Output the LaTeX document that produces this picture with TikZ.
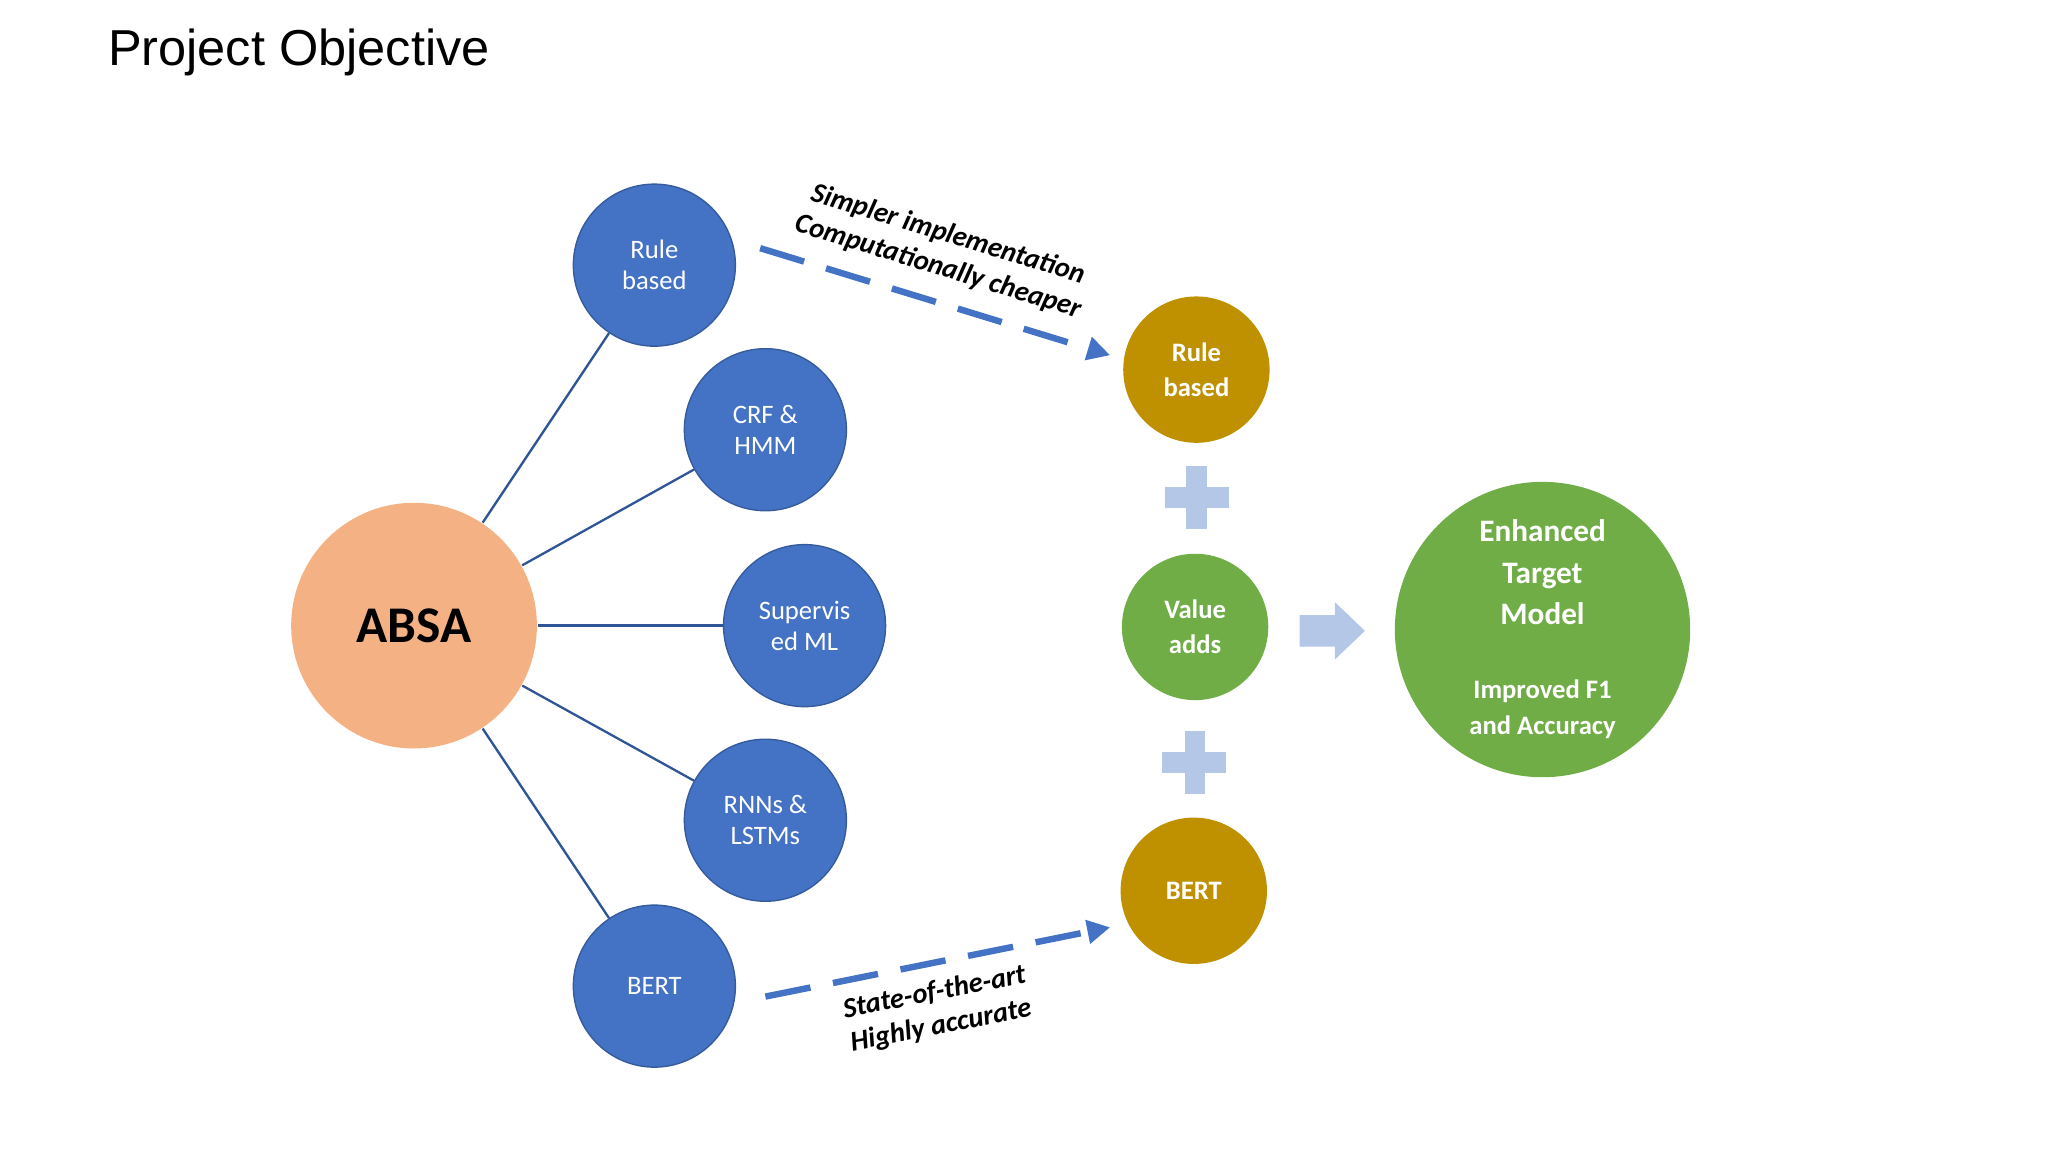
\documentclass[tikz,border=0pt]{standalone}
\usepackage{fontspec}
\setmainfont{Carlito}
\newfontfamily\arialf{Liberation Sans}
\usetikzlibrary{arrows.meta}
\definecolor{blu}{HTML}{4472C4}
\definecolor{absa}{HTML}{F4B183}
\definecolor{gold}{HTML}{BF9000}
\definecolor{grn}{HTML}{70AD47}
\definecolor{lblu}{HTML}{B4C7E7}
\definecolor{lin}{HTML}{2F5597}
\begin{document}
\begin{tikzpicture}[x=0.01cm,y=-0.01cm,
  bc/.style={circle,fill=blu,draw=blu!80!black,line width=0.3pt,minimum size=1.24cm,inner sep=0pt,text=white,align=center,font=\fontsize{5.8}{6.8}\selectfont},
  gc/.style={circle,minimum size=1.12cm,inner sep=0pt,text=white,align=center,font=\bfseries\fontsize{5.8}{7.6}\selectfont},
  ln/.style={lin,line width=0.5pt},
  da/.style={blu,line width=1.4pt,dash pattern=on 10pt off 5pt,-{Triangle[length=5pt,width=5pt]}},
  lab/.style={font=\bfseries\itshape\fontsize{6.2}{7.4}\selectfont,align=center,inner sep=0pt},
  plus/.style={lblu,line width=4.5pt}]
\useasboundingbox (0,0) rectangle (1568,882);
\node[anchor=west,inner sep=0pt,font=\arialf\fontsize{11}{13}\selectfont] (title) at (82,40) {Project Objective};
\node[circle,fill=absa,minimum size=1.88cm,inner sep=0pt,font=\bfseries\fontsize{11.2}{12}\selectfont] (absa) at (317,479) {ABSA};
\node[bc] (rb) at (501,203) {Rule\\based};
\node[bc] (crf) at (586,329) {CRF \&\\HMM};
\node[bc] (sup) at (616,479) {Supervis\\ed ML};
\node[bc] (rnn) at (586,628) {RNNs \&\\LSTMs};
\node[bc] (bert) at (501,755) {BERT};
\foreach \n in {rb,crf,sup,rnn,bert} \draw[ln] (absa) -- (\n);
\node[gc,fill=gold] (grb) at (916,283) {Rule\\based};
\node[gc,fill=grn] (va) at (915,480) {Value\\adds};
\node[gc,fill=gold] (gbert) at (914,682) {BERT};
\node[circle,fill=grn,minimum size=2.26cm,inner sep=0pt,text=white,align=center,font=\bfseries\fontsize{6.8}{9}\selectfont] (etm) at (1181,482)
  {Enhanced\\Target\\Model\\[7pt]\fontsize{5.8}{7.8}\selectfont Improved F1\\[-1pt]\fontsize{5.8}{7.8}\selectfont and Accuracy};
\draw[plus] (892,381) -- (941,381) (916,357) -- (916,405);
\draw[plus] (890,584) -- (939,584) (915,560) -- (915,608);
\fill[lblu] (995,471) -- (1022,471) -- (1022,461) -- (1045,483) -- (1022,505) -- (1022,495) -- (995,495) -- cycle;
\coordinate (s1) at (582,190); \coordinate (e1) at (850,272);
\coordinate (s2) at (586,763); \coordinate (e2) at (850,710);
\draw[da] (s1) -- (e1);
\draw[da] (s2) -- (e2);
\node[lab,rotate=-17] (l1) at (722,192) {Simpler implementation\\Computationally cheaper};
\node[lab,rotate=11] (l2) at (718,773) {State-of-the-art\\Highly accurate};
\end{tikzpicture}
\end{document}
